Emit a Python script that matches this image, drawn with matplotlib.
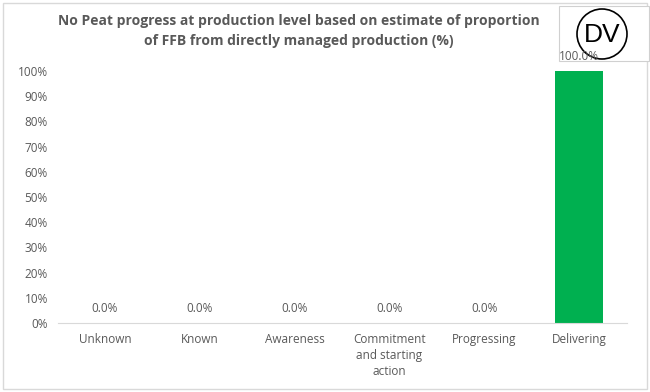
import matplotlib.pyplot as plt
from matplotlib.patches import Rectangle, Ellipse

# data
categories = ['Unknown', 'Known', 'Awareness', 'Commitment\nand starting\naction', 'Progressing', 'Delivering']
values = [0.0, 0.0, 0.0, 0.0, 0.0, 100.0]
title = 'No Peat progress at production level based on estimate of proportion\nof FFB from directly managed production (%)'

grey = '#595959'
plt.rcParams['font.family'] = ['Open Sans', 'DejaVu Sans']

fig = plt.figure(figsize=(6.5, 3.92), dpi=100)
ax = fig.add_axes([0.0885, 0.176, 0.8755, 0.643])
ax.set_zorder(3)
ax.patch.set_alpha(0)

x = range(len(categories))
ax.bar(x, values, width=0.5, color='#00b050')
for i, v in zip(x, values):
    ax.text(i, v + 3, '%.1f%%' % v, ha='center', va='bottom', fontsize=8.5, color=grey)

ax.set_xlim(-0.5, len(categories) - 0.5)
ax.set_ylim(0, 100)
ax.set_yticks(range(0, 101, 10))
ax.set_yticklabels(['%d%%' % t for t in range(0, 101, 10)])
ax.set_xticks(list(x))
ax.set_xticklabels(categories, linespacing=1.3)
ax.tick_params(length=0, labelsize=8.5, labelcolor=grey, pad=7)
for s in ['top', 'right', 'left']:
    ax.spines[s].set_visible(False)
ax.spines['bottom'].set_color('#d9d9d9')

fig.text(0.46, 0.965, title, ha='center', va='top', fontsize=10, fontweight='bold',
         color=grey, linespacing=1.55)

# outer border
fig.patches.append(Rectangle((0.005, 0.008), 0.99, 0.984, transform=fig.transFigure,
                             fill=False, edgecolor='#d9d9d9', lw=1))

# DV logo
fig.patches.append(Rectangle((559 / 650, 1 - 61 / 392), 90 / 650, 55 / 392, transform=fig.transFigure,
                             facecolor='white', edgecolor='#d0d0d0', lw=0.8, zorder=1))
fig.patches.append(Ellipse((602 / 650, 1 - 34 / 392), 50 / 650, 50 / 392, transform=fig.transFigure,
                           fill=False, edgecolor='black', lw=1.2, zorder=2))
fig.text(602 / 650, 1 - 35 / 392, 'DV', ha='center', va='center', fontsize=19, color='black',
         family=['Liberation Sans', 'DejaVu Sans'], zorder=2)

fig.savefig('out.png', dpi=100)
